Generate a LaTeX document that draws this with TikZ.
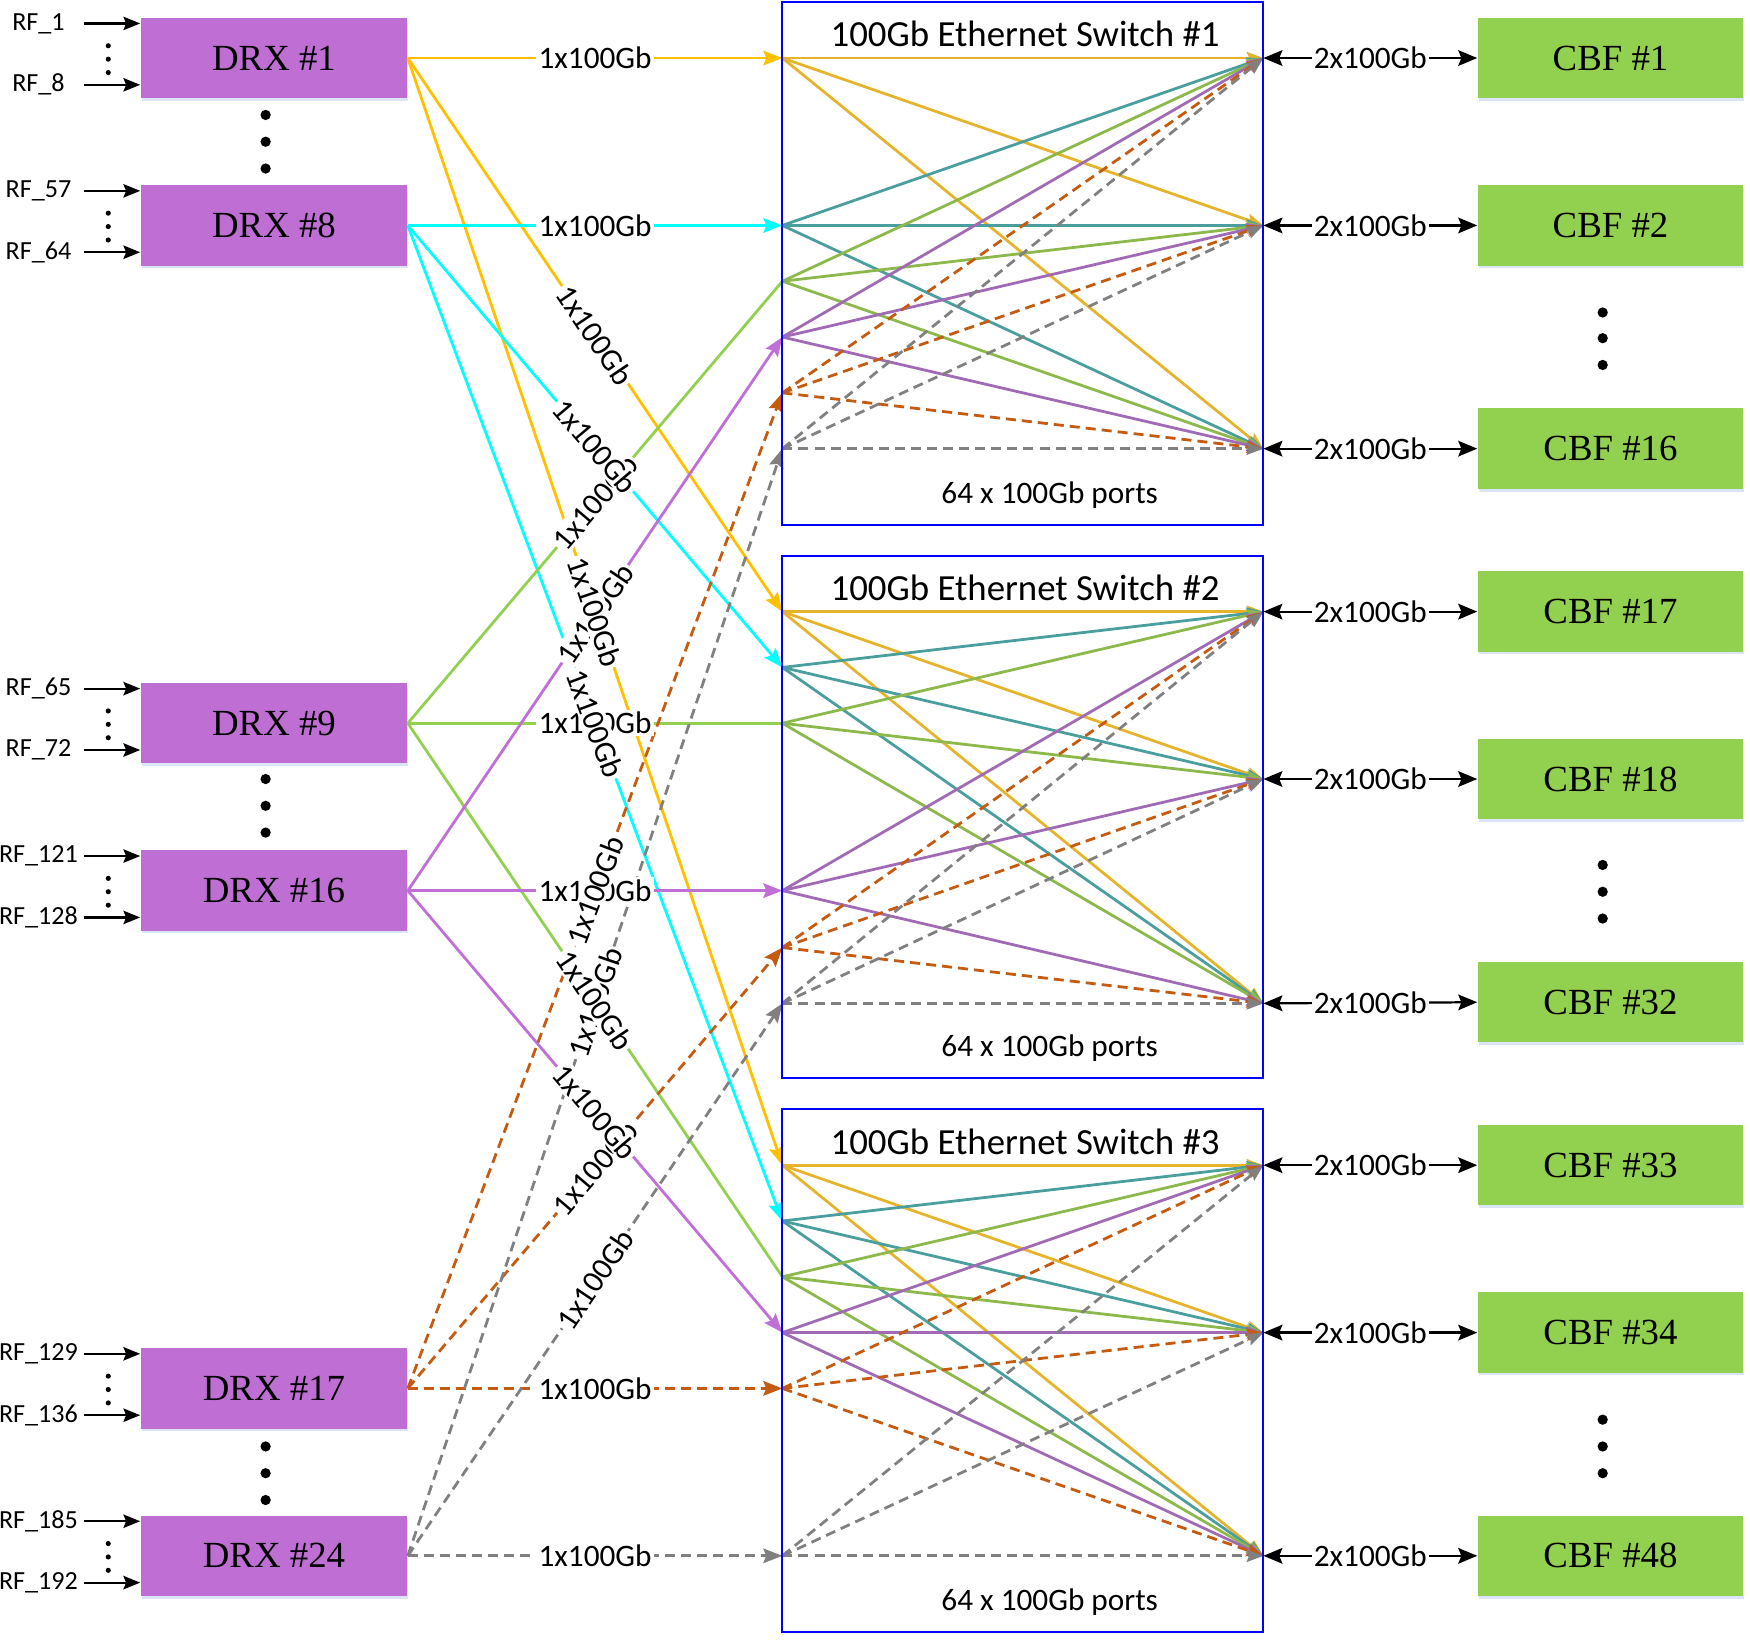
\documentclass[tikz,border=0pt]{standalone}
\usepackage{fontspec}
\setmainfont{Liberation Serif}
\newfontfamily\calfont{Carlito}
\usetikzlibrary{arrows.meta,shadows}
\definecolor{drxfill}{RGB}{191,111,212}
\definecolor{cbffill}{RGB}{146,208,80}
\definecolor{yelO}{RGB}{255,192,0}
\definecolor{yelI}{RGB}{230,180,44}
\definecolor{cyaO}{RGB}{0,255,255}
\definecolor{cyaI}{RGB}{74,158,158}
\definecolor{grnO}{RGB}{146,208,80}
\definecolor{grnI}{RGB}{140,184,76}
\definecolor{purO}{RGB}{191,111,214}
\definecolor{purI}{RGB}{160,107,180}
\definecolor{orgC}{RGB}{197,90,17}
\definecolor{gryC}{RGB}{128,128,128}
\definecolor{swblue}{RGB}{0,0,255}
\definecolor{shadowblue}{RGB}{205,218,245}
\tikzset{
  boxshadow/.style={drop shadow={shadow xshift=0.4pt,shadow yshift=-1.2pt,fill=shadowblue,opacity=0.7}},
  drxbox/.style={rectangle, fill=drxfill, minimum width=119.5pt, minimum height=36pt, inner sep=0pt, font=\fontsize{16.5}{18}\selectfont, boxshadow},
  cbfbox/.style={rectangle, fill=cbffill, minimum width=119pt, minimum height=36pt, inner sep=0pt, font=\fontsize{16.5}{18}\selectfont, boxshadow},
  swbox/.style={rectangle, draw=swblue, line width=0.9pt, minimum width=215.5pt, minimum height=234pt, inner sep=0pt},
  swtitle/.style={font=\calfont\fontsize{16.5}{18}\selectfont, inner sep=0pt, anchor=base},
  portlbl/.style={font=\calfont\fontsize{14}{16}\selectfont, inner sep=0pt, anchor=base},
  rflbl/.style={font=\calfont\fontsize{11.7}{13}\selectfont, inner sep=0pt},
  linklbl/.style={font=\calfont\fontsize{14}{16}\selectfont, fill=white, inner sep=1pt, sloped},
  outer/.style={line width=1.25pt, -{Stealth[length=8.5pt,width=6.5pt,inset=1.3pt]}},
  outernotip/.style={line width=1.25pt},
  inner/.style={line width=1.25pt, -{Stealth[length=7.5pt,width=5.5pt,inset=1.2pt]}},
  dsh/.style={dash pattern=on 4.5pt off 2.7pt},
  rfarrow/.style={line width=1pt, -{Stealth[length=7.5pt,width=6pt,inset=1.2pt]}},
  bidir/.style={line width=1pt, {Stealth[length=8.5pt,width=7pt,inset=1.4pt]}-{Stealth[length=8.5pt,width=7pt,inset=1.4pt]}},
}
\begin{document}
\begin{tikzpicture}[x=0.5pt,y=-0.5pt]
\useasboundingbox (0,0) rectangle (1568,1473);

% DRX boxes
\foreach \n/\y in {1/52,8/202,9/648,16/798,17/1244,24/1394}
  \node[drxbox] (d\n) at (245.5,\y) {DRX \#\n};

% CBF boxes
\foreach \n/\y in {1/52,2/202,16/402,17/548,18/698,32/898,33/1044,34/1194,48/1394}
  \node[cbfbox] (c\n) at (1443,\y) {CBF \#\n};

% switch ports (left side)
\coordinate (p1-1) at (701,52);
\coordinate (p1-8) at (701,202);
\coordinate (p1-9) at (701,252);
\coordinate (p1-16) at (701,302);
\coordinate (p1-17) at (701,352);
\coordinate (p1-24) at (701,402);
\coordinate (p2-1) at (701,548);
\coordinate (p2-8) at (701,598);
\coordinate (p2-9) at (701,648);
\coordinate (p2-16) at (701,798);
\coordinate (p2-17) at (701,849);
\coordinate (p2-24) at (701,899);
\coordinate (p3-1) at (701,1044);
\coordinate (p3-8) at (701,1094);
\coordinate (p3-9) at (701,1144);
\coordinate (p3-16) at (701,1194);
\coordinate (p3-17) at (701,1244);
\coordinate (p3-24) at (701,1394);
% switch ports (right side)
\coordinate (q1-a) at (1132,52);
\coordinate (q1-b) at (1132,202);
\coordinate (q1-c) at (1132,402);
\coordinate (q2-a) at (1132,548);
\coordinate (q2-b) at (1132,698);
\coordinate (q2-c) at (1132,899);
\coordinate (q3-a) at (1132,1044);
\coordinate (q3-b) at (1132,1194);
\coordinate (q3-c) at (1132,1394);

% inner switch lines
\foreach \s in {1,2,3}{
  \foreach \d/\c/\st in {1/yelI/solid,8/cyaI/solid,9/grnI/solid,16/purI/solid,17/orgC/dsh,24/gryC/dsh}{
    \foreach \r in {a,b,c}
      \draw[inner,\c,\st] (p\s-\d) -- (q\s-\r);
  }
}

% outer lines
\foreach \d/\c/\st/\tp in {1/yelO/solid/outer,8/cyaO/solid/outer,9/grnO/solid/outernotip,16/purO/solid/outer,17/orgC/dsh/outer,24/gryC/dsh/outer}
  \foreach \s in {1,2,3}
    \draw[\tp,\c,\st] (d\d.east) -- (p\s-\d);

% switch frames and texts
\foreach \s/\o in {1/0,2/496,3/992}{
  \node[swbox] (sw\s) at (916.5,236+\o) {};
  \node[swtitle] (swt\s) at (918.5,42+\o) {100Gb Ethernet Switch \#\s};
  \node[portlbl] (swp\s) at (940.5,451+\o) {64 x 100Gb ports};
}

% link labels
\foreach \d/\s in {1/1,8/1,9/2,16/2,17/3,24/3,24/1,24/2,17/1,17/2,16/1,16/3,9/1,9/3,8/2,8/3,1/2,1/3}
  \path (d\d.east) -- (p\s-\d) node[midway, linklbl] (l\d-\s) {1x100Gb};

% switch to CBF
\foreach \s/\r/\n in {1/a/1,1/b/2,1/c/16,2/a/17,2/b/18,2/c/32,3/a/33,3/b/34,3/c/48}
  \draw[bidir] (q\s-\r) -- (c\n.west) node[midway, font=\calfont\fontsize{14}{16}\selectfont, fill=white, inner sep=1pt] (b\n) {2x100Gb};

% RF inputs
\foreach \n/\y/\a/\b in {1/52/1/8,8/202/57/64,9/648/65/72,16/798/121/128,17/1244/129/136,24/1394/185/192}{
  \node[rflbl] (rf\a) at (34.5,\y-31) {RF\_\a};
  \node[rflbl] (rf\b) at (34.5,\y+24) {RF\_\b};
  \coordinate (rs\a) at (75,\y-31);
  \coordinate (rs\b) at (75,\y+24);
  \draw[rfarrow] (rs\a) -- (rs\a -| d\n.west);
  \draw[rfarrow] (rs\b) -- (rs\b -| d\n.west);
  \foreach \k in {-11,1,13} \fill (97,\y+\k) circle[radius=1.15pt];
}

% ellipsis dots
\foreach \y in {103,127,151,698,722,746,1296,1320,1344}
  \fill (238,\y) circle[radius=2.3pt];
\foreach \y in {280,303,327,775,799,823,1272,1296,1320}
  \fill (1436,\y) circle[radius=2.3pt];
\end{tikzpicture}
\end{document}
